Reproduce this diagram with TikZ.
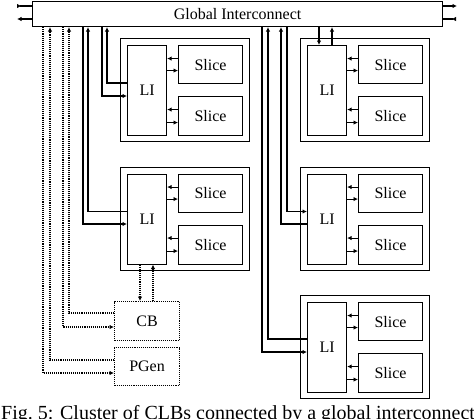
\documentclass[tikz,border=0pt]{standalone}
\usepackage{fontspec}
\setmainfont{Liberation Serif}
\usetikzlibrary{arrows.meta,calc}
\tikzset{
  blk/.style={draw, line width=1.1pt, inner sep=0pt, font=\fontsize{16}{19}\selectfont},
  dblk/.style={blk, densely dotted},
  wire/.style={line width=1.1pt},
  dwire/.style={line width=1.1pt, densely dotted},
  arr/.style={-{Latex[length=4.5pt,width=4.5pt]}},
  rarr/.style={-{Latex[length=4.5pt,width=4.5pt,reversed]}},
}
\newcommand{\clbunit}[3]{%
  \node[blk, anchor=north west, minimum width=129pt, minimum height=103pt] (#1o) at (#2,#3) {};
  \node[blk, anchor=north west, minimum width=39pt, minimum height=90pt] (#1li) at (#2+7,#3+7) {LI};
  \node[blk, anchor=north west, minimum width=64pt, minimum height=38pt] (#1sa) at (#2+58,#3+7) {Slice};
  \node[blk, anchor=north west, minimum width=64pt, minimum height=39pt] (#1sb) at (#2+58,#3+58) {Slice};
  \coordinate (#1p1) at ($(#1sa.west)+(0,-6)$);
  \coordinate (#1p2) at ($(#1sa.west)+(0,6)$);
  \coordinate (#1p3) at ($(#1sb.west)+(0,-6.5)$);
  \coordinate (#1p4) at ($(#1sb.west)+(0,6.5)$);
  \draw[wire, arr] (#1p1) -- (#1p1 -| #1li.east);
  \draw[wire, arr] (#1p2 -| #1li.east) -- (#1p2);
  \draw[wire, arr] (#1p3) -- (#1p3 -| #1li.east);
  \draw[wire, arr] (#1p4 -| #1li.east) -- (#1p4);
}
\begin{document}
\begin{tikzpicture}[x=1pt, y=-1pt]
\clip (0,0) rectangle (474,418);
\useasboundingbox (0,0) rectangle (474,418);
% global interconnect
\node[blk, anchor=north west, minimum width=410pt, minimum height=25.5pt] (gi) at (32,0.5) {Global Interconnect};
\coordinate (gl1) at (17,6);
\coordinate (gl2) at (17,19);
\coordinate (gr1) at (457,6);
\coordinate (gr2) at (456,19);
\draw[wire, rarr] (gl1 -| gi.west) -- (gl1);
\draw[wire, arr] (gl2 -| gi.west) -- (gl2);
\draw[wire, arr] (gr1 -| gi.east) -- (gr1);
\draw[wire, rarr] (gr2 -| gi.east) -- (gr2);
% CLBs
\clbunit{ca}{120}{38}
\clbunit{cb}{120}{166.5}
\clbunit{cd}{300}{38}
\clbunit{ce}{300}{166.5}
\clbunit{cf}{300}{295}
% left column links
\coordinate (va1) at (107,83);
\coordinate (va2) at (102,96);
\draw[wire, arr] (va1 -| cali.west) -| (va1 |- gi.south);
\draw[wire, arr] (va2 |- gi.south) |- (va2 -| cali.west);
\coordinate (vb1) at (88,211.5);
\coordinate (vb2) at (83,224);
\draw[wire, arr] (vb1 -| cbli.west) -| (vb1 |- gi.south);
\draw[wire, arr] (vb2 |- gi.south) |- (vb2 -| cbli.west);
% right column links
\coordinate (vd1) at (319,0);
\coordinate (vd2) at (332,0);
\draw[wire, arr] (vd1 |- gi.south) -- (vd1 |- cdli.north);
\draw[wire, arr] (vd2 |- cdli.north) -- (vd2 |- gi.south);
\coordinate (ve1) at (287,211.5);
\coordinate (ve2) at (281,224);
\draw[wire, arr] (ve1 |- gi.south) |- (ve1 -| celi.west);
\draw[wire, arr] (ve2 -| celi.west) -| (ve2 |- gi.south);
\coordinate (vf1) at (268,339);
\coordinate (vf2) at (262,352);
\draw[wire, arr] (vf1 -| cfli.west) -| (vf1 |- gi.south);
\draw[wire, arr] (vf2 |- gi.south) |- (vf2 -| cfli.west);
% CB and PGen
\node[dblk, anchor=north west, minimum width=65pt, minimum height=39pt] (cbx) at (114,301) {CB};
\node[dblk, anchor=north west, minimum width=65pt, minimum height=38pt] (pg) at (114,347) {PGen};
\coordinate (vg1) at (69,313);
\coordinate (vg2) at (63,327);
\coordinate (vg3) at (50,360);
\coordinate (vg4) at (43,373);
\draw[dwire, arr] (vg1 -| cbx.west) -| (vg1 |- gi.south);
\draw[dwire, arr] (vg2 |- gi.south) |- (vg2 -| cbx.west);
\draw[dwire, arr] (vg3 -| pg.west) -| (vg3 |- gi.south);
\draw[dwire, arr] (vg4 |- gi.south) |- (vg4 -| pg.west);
\coordinate (vh1) at (140,0);
\coordinate (vh2) at (153,0);
\draw[dwire, arr] (vh1 |- cbli.south) -- (vh1 |- cbx.north);
\draw[dwire, arr] (vh2 |- cbx.north) -- (vh2 |- cbli.south);
% caption (cut off at the bottom edge, as in the reference)
\node[anchor=base west, inner sep=0pt, font=\fontsize{20}{24}\selectfont] (cap) at (1,419) {Fig.~5: Cluster of CLBs connected by a global interconnect};
\end{tikzpicture}
\end{document}
